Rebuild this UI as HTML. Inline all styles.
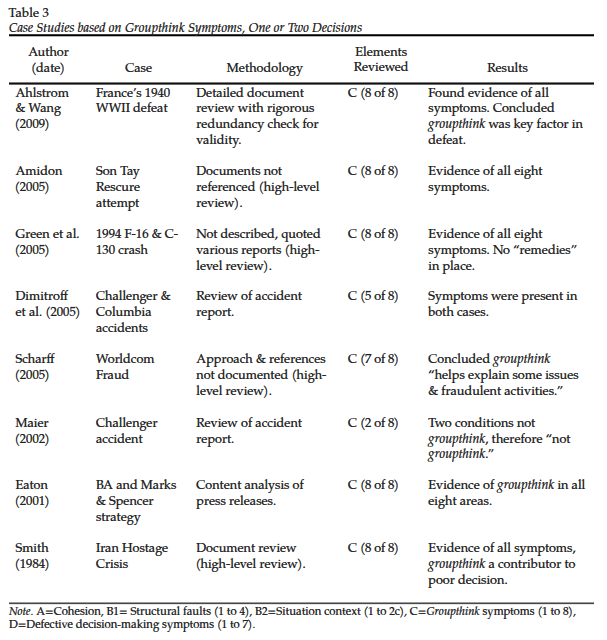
<!DOCTYPE html>
<html><head><meta charset="utf-8"><title>Table 3</title><style>
html,body{margin:0;padding:0;background:#fff;}
body{width:607px;height:640px;position:relative;overflow:hidden;font-family:"TeX Gyre Pagella", "Palatino Linotype", "Book Antiqua", Palatino, "Liberation Serif", serif;color:#222;-webkit-text-stroke:0.15px #222;text-shadow:0 0 0.6px rgba(30,30,30,0.55);}
.l{position:absolute;white-space:nowrap;font-size:12.7px;line-height:15.75px;}
.c{width:200px;text-align:center;}
i{letter-spacing:0.06px;}
.po{margin-right:-0.7px;}
.ps{margin-left:-0.9px;}
.pc{margin-left:-1px;}
.n{font-size:11.3px;line-height:13.2px;letter-spacing:0.02px;}
.r{position:absolute;left:8.6px;width:585px;}
</style></head>
<body>

<div class="r" style="top:34px;height:1px;background:#3a3a3a"></div>
<div class="r" style="top:35px;height:1px;background:#000"></div>
<div class="r" style="top:36px;height:1px;background:#b4b4b4"></div>
<div class="r" style="top:82px;height:1px;background:#7a7a7a"></div>
<div class="r" style="top:83px;height:1px;background:#111"></div>
<div class="r" style="top:84px;height:1px;background:#6a6a6a"></div>
<div class="r" style="top:602px;height:1px;background:#9a9a9a"></div>
<div class="r" style="top:603px;height:1px;background:#474747"></div>
<div class="r" style="top:604px;height:1px;background:#e4e4e4"></div>

<div class="l" style="left:8.6px;top:6.63px;letter-spacing:0.15px">Table 3</div>
<div class="l" style="left:8.9px;top:21.63px"><i>Case Studies based on Groupthink Symptoms, One or Two Decisions</i></div>
<div class="l c" style="left:-51.5px;top:45.83px">Author</div>
<div class="l c" style="left:-51.5px;top:61.63px"><span class="po ps">(</span>date<span class="pc">)</span></div>
<div class="l c" style="left:38.7px;top:61.73px">Case</div>
<div class="l c" style="left:164.9px;top:61.63px">Methodology</div>
<div class="l c" style="left:281.2px;top:45.83px">Elements</div>
<div class="l c" style="left:281.2px;top:61.43px">Reviewed</div>
<div class="l c" style="left:407.5px;top:61.73px">Results</div>
<div class="l" style="left:15.5px;top:86.73px">Ahlstrom</div>
<div class="l" style="left:15.5px;top:102.48px">&amp; Wang</div>
<div class="l" style="left:15.5px;top:118.23px"><span class="po ps">(</span>2009<span class="pc">)</span></div>
<div class="l" style="left:96.0px;top:86.73px">France’s 1940</div>
<div class="l" style="left:96.0px;top:102.48px">WWII defeat</div>
<div class="l" style="left:196.3px;top:86.73px">Detailed document</div>
<div class="l" style="left:196.3px;top:102.48px">review with rigorous</div>
<div class="l" style="left:196.3px;top:118.23px">redundancy check for</div>
<div class="l" style="left:196.3px;top:133.98px">validity.</div>
<div class="l" style="left:348.0px;top:86.73px;letter-spacing:-0.13px">C <span class="po">(</span>8 of 8<span class="pc">)</span></div>
<div class="l" style="left:428.3px;top:86.73px">Found evidence of all</div>
<div class="l" style="left:428.3px;top:102.48px">symptoms. Concluded</div>
<div class="l" style="left:428.3px;top:118.23px"><i>groupthink</i> was key factor in</div>
<div class="l" style="left:428.3px;top:133.98px">defeat.</div>
<div class="l" style="left:15.5px;top:165.33px">Amidon</div>
<div class="l" style="left:15.5px;top:181.08px"><span class="po ps">(</span>2005<span class="pc">)</span></div>
<div class="l" style="left:96.0px;top:165.33px">Son Tay</div>
<div class="l" style="left:96.0px;top:181.08px">Rescure</div>
<div class="l" style="left:96.0px;top:196.83px">attempt</div>
<div class="l" style="left:196.3px;top:165.33px">Documents not</div>
<div class="l" style="left:196.3px;top:181.08px">referenced <span class="po">(</span>high-level</div>
<div class="l" style="left:196.3px;top:196.83px">review<span class="pc">)</span>.</div>
<div class="l" style="left:348.0px;top:165.33px;letter-spacing:-0.13px">C <span class="po">(</span>8 of 8<span class="pc">)</span></div>
<div class="l" style="left:428.3px;top:165.33px">Evidence of all eight</div>
<div class="l" style="left:428.3px;top:181.08px">symptoms.</div>
<div class="l" style="left:15.5px;top:228.43px">Green et al.</div>
<div class="l" style="left:15.5px;top:244.18px"><span class="po ps">(</span>2005<span class="pc">)</span></div>
<div class="l" style="left:96.0px;top:228.43px">1994 F-16 &amp; C-</div>
<div class="l" style="left:96.0px;top:244.18px">130 crash</div>
<div class="l" style="left:196.3px;top:228.43px">Not described, quoted</div>
<div class="l" style="left:196.3px;top:244.18px">various reports <span class="po">(</span>high-</div>
<div class="l" style="left:196.3px;top:259.93px">level review<span class="pc">)</span>.</div>
<div class="l" style="left:348.0px;top:228.43px;letter-spacing:-0.13px">C <span class="po">(</span>8 of 8<span class="pc">)</span></div>
<div class="l" style="left:428.3px;top:228.43px">Evidence of all eight</div>
<div class="l" style="left:428.3px;top:244.18px">symptoms. No “remedies”</div>
<div class="l" style="left:428.3px;top:259.93px">in place.</div>
<div class="l" style="left:15.5px;top:290.43px">Dimitroff</div>
<div class="l" style="left:15.5px;top:306.18px">et al. <span class="po">(</span>2005<span class="pc">)</span></div>
<div class="l" style="left:96.0px;top:290.43px">Challenger &amp;</div>
<div class="l" style="left:96.0px;top:306.18px">Columbia</div>
<div class="l" style="left:96.0px;top:321.93px">accidents</div>
<div class="l" style="left:196.3px;top:290.43px">Review of accident</div>
<div class="l" style="left:196.3px;top:306.18px">report.</div>
<div class="l" style="left:348.0px;top:290.43px;letter-spacing:-0.13px">C <span class="po">(</span>5 of 8<span class="pc">)</span></div>
<div class="l" style="left:428.3px;top:290.43px">Symptoms were present in</div>
<div class="l" style="left:428.3px;top:306.18px">both cases.</div>
<div class="l" style="left:15.5px;top:353.43px">Scharff</div>
<div class="l" style="left:15.5px;top:369.18px"><span class="po ps">(</span>2005<span class="pc">)</span></div>
<div class="l" style="left:96.0px;top:353.43px">Worldcom</div>
<div class="l" style="left:96.0px;top:369.18px">Fraud</div>
<div class="l" style="left:196.3px;top:353.43px">Approach &amp; references</div>
<div class="l" style="left:196.3px;top:369.18px">not documented <span class="po">(</span>high-</div>
<div class="l" style="left:196.3px;top:384.93px">level review<span class="pc">)</span>.</div>
<div class="l" style="left:348.0px;top:353.43px;letter-spacing:-0.13px">C <span class="po">(</span>7 of 8<span class="pc">)</span></div>
<div class="l" style="left:428.3px;top:353.43px">Concluded <i>groupthink</i></div>
<div class="l" style="left:428.3px;top:369.18px">“helps explain some issues</div>
<div class="l" style="left:428.3px;top:384.93px">&amp; fraudulent activities.”</div>
<div class="l" style="left:15.5px;top:416.83px">Maier</div>
<div class="l" style="left:15.5px;top:432.58px"><span class="po ps">(</span>2002<span class="pc">)</span></div>
<div class="l" style="left:96.0px;top:416.83px">Challenger</div>
<div class="l" style="left:96.0px;top:432.58px">accident</div>
<div class="l" style="left:196.3px;top:416.83px">Review of accident</div>
<div class="l" style="left:196.3px;top:432.58px">report.</div>
<div class="l" style="left:348.0px;top:416.83px;letter-spacing:-0.13px">C <span class="po">(</span>2 of 8<span class="pc">)</span></div>
<div class="l" style="left:428.3px;top:416.83px">Two conditions not</div>
<div class="l" style="left:428.3px;top:432.58px"><i>groupthink</i>, therefore “not</div>
<div class="l" style="left:428.3px;top:448.33px"><i>groupthink</i>.”</div>
<div class="l" style="left:15.5px;top:479.03px">Eaton</div>
<div class="l" style="left:15.5px;top:494.78px"><span class="po ps">(</span>2001<span class="pc">)</span></div>
<div class="l" style="left:96.0px;top:479.03px">BA and Marks</div>
<div class="l" style="left:96.0px;top:494.78px">&amp; Spencer</div>
<div class="l" style="left:96.0px;top:510.53px">strategy</div>
<div class="l" style="left:196.3px;top:479.03px">Content analysis of</div>
<div class="l" style="left:196.3px;top:494.78px">press releases.</div>
<div class="l" style="left:348.0px;top:479.03px;letter-spacing:-0.13px">C <span class="po">(</span>8 of 8<span class="pc">)</span></div>
<div class="l" style="left:428.3px;top:479.03px">Evidence of <i>groupthink</i> in all</div>
<div class="l" style="left:428.3px;top:494.78px">eight areas.</div>
<div class="l" style="left:15.5px;top:542.03px">Smith</div>
<div class="l" style="left:15.5px;top:557.78px"><span class="po ps">(</span>1984<span class="pc">)</span></div>
<div class="l" style="left:96.0px;top:542.03px">Iran Hostage</div>
<div class="l" style="left:96.0px;top:557.78px">Crisis</div>
<div class="l" style="left:196.3px;top:542.03px">Document review</div>
<div class="l" style="left:196.3px;top:557.78px"><span class="po ps">(</span>high-level review<span class="pc">)</span>.</div>
<div class="l" style="left:348.0px;top:542.03px;letter-spacing:-0.13px">C <span class="po">(</span>8 of 8<span class="pc">)</span></div>
<div class="l" style="left:428.3px;top:542.03px">Evidence of all symptoms,</div>
<div class="l" style="left:428.3px;top:557.78px"><i>groupthink</i> a contributor to</div>
<div class="l" style="left:428.3px;top:573.53px">poor decision.</div>
<div class="l n" style="left:9.0px;top:605.91px"><i>Note</i>. A=Cohesion, B1= Structural faults <span class="po">(</span>1 to 4<span class="pc">)</span>, B2=Situation context <span class="po">(</span>1 to 2c<span class="pc">)</span>, C=<i>Groupthink</i> symptoms <span class="po">(</span>1 to 8<span class="pc">)</span>,</div>
<div class="l n" style="left:9.0px;top:619.11px">D=Defective decision-making symptoms <span class="po">(</span>1 to 7<span class="pc">)</span>.</div>
</body></html>
